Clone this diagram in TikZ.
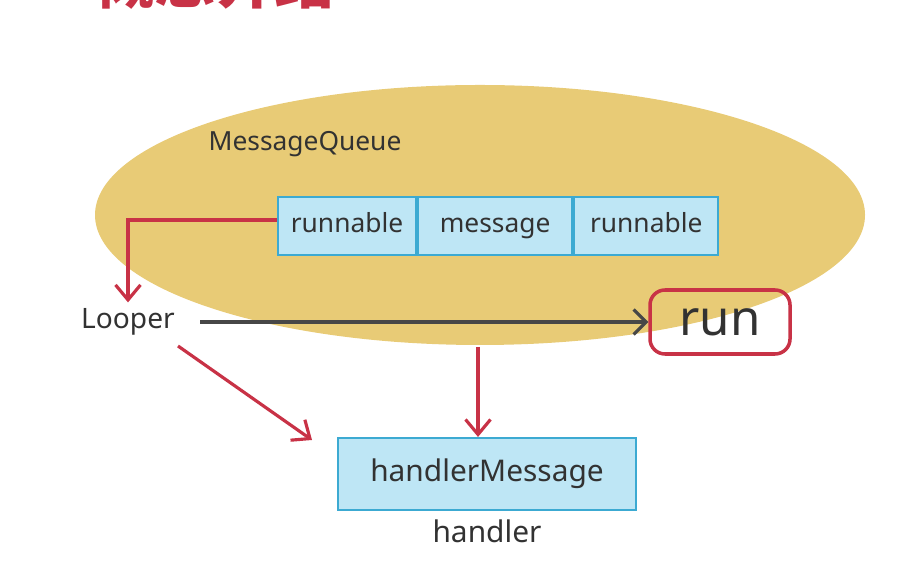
\documentclass[tikz,border=0pt]{standalone}
\usepackage{fontspec}
\setmainfont{Noto Sans}
\newfontfamily\cjk{Noto Sans CJK SC}
\usetikzlibrary{positioning,arrows.meta}
\definecolor{queuegold}{RGB}{232,203,118}
\definecolor{cellblue}{RGB}{190,230,245}
\definecolor{celledge}{RGB}{60,170,210}
\definecolor{linkred}{RGB}{200,50,70}
\definecolor{textgray}{RGB}{50,50,50}
\begin{document}
\begin{tikzpicture}
  [every node/.style={text=textgray},
   cell/.style={rectangle, draw=celledge, very thick, fill=cellblue, minimum height=11.6mm, inner sep=0pt, text height=3.4mm, text depth=0.8mm, font=\fontsize{15}{17}\selectfont},
   redarrow/.style={draw=linkred, line width=1.8pt, -{Straight Barb[length=3mm,width=5mm]}}]
  \useasboundingbox (0,0) rectangle (18.14,11.38);
  \clip (0,0) rectangle (18.14,11.38);
  \node [text=linkred, font=\cjk\bfseries\fontsize{34}{36}\selectfont, anchor=base] (title) at (4.3,11.3) {概念介绍};

  \fill [queuegold] (9.6,7.08) ellipse [x radius=7.7, y radius=2.6];
  \node [font=\fontsize{15}{17}\selectfont] (mq) at (6.1,8.5) {MessageQueue};

  \node [cell, minimum width=27.6mm] (r1) at (6.94,6.86) {runnable};
  \node [cell, minimum width=30.8mm, right=0pt of r1] (m1) {message};
  \node [cell, minimum width=28.8mm, right=0pt of m1] (r2) {runnable};

  \node [font=\fontsize{16}{18}\selectfont] (looper) at (2.56,4.94) {Looper};
  \node [draw=linkred, line width=2pt, rounded corners=3mm, minimum width=28mm, minimum height=12.8mm, font=\fontsize{28}{30}\selectfont] (run) at (14.4,4.94) {run};

  \node [cell, minimum width=59.6mm, minimum height=14.4mm, text height=4mm, text depth=1mm, font=\fontsize{17}{19}\selectfont] (hm) at (9.74,1.9) {handlerMessage};
  \node [font=\fontsize{17}{19}\selectfont, below=0.5mm of hm] (handler) {handler};

  \coordinate (qout) at (5.36,6.98);
  \coordinate (qdrop) at (9.56,4.44);
  \draw [redarrow] (r1.west |- qout) -| (looper.north);
  \draw [draw=textgray!90, line width=1.8pt, -{Straight Barb[length=2.5mm,width=5mm]}] (4.0,4.94) -- (run.west);
  \draw [redarrow] (qdrop) -- (qdrop |- hm.north);
  \draw [redarrow] (3.56,4.46) -- (6.24,2.58);
\end{tikzpicture}
\end{document}
